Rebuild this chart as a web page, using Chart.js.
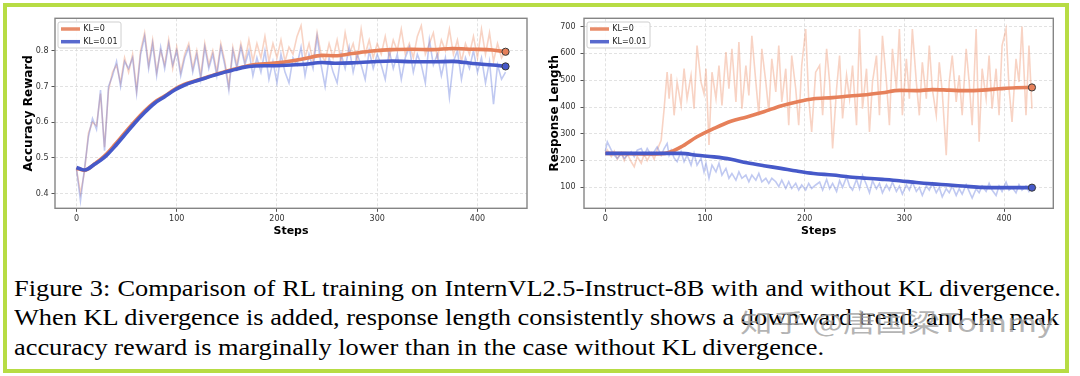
<!DOCTYPE html>
<html>
<head>
<meta charset="utf-8">
<script src="https://cdn.jsdelivr.net/npm/chart.js@4.4.1/dist/chart.umd.min.js"></script>
<style>
html,body{margin:0;padding:0;background:#fff;}
#root{position:relative;width:1080px;height:376px;overflow:hidden;background:#fff;}
#frame{position:absolute;left:3px;top:3px;width:1058px;height:362px;border:4px solid #b7dc44;}
canvas{position:absolute;top:0;}
.cap{position:absolute;left:13.8px;white-space:nowrap;font-family:"Liberation Serif","Times New Roman",serif;font-size:22.5px;line-height:1;color:#000;transform-origin:0 0;}
#wm{position:absolute;left:740px;top:309px;white-space:nowrap;font-family:"Noto Sans CJK SC",sans-serif;font-size:25px;line-height:1;color:rgba(160,160,160,0.78);transform-origin:0 0;}
</style>
</head>
<body>
<div id="root">
  <div id="frame"></div>
  <canvas id="accChart" width="540" height="250" style="left:0px"></canvas>
  <canvas id="lenChart" width="540" height="250" style="left:540px"></canvas>
  <div id="cap1" class="cap"></div>
  <div id="cap2" class="cap"></div>
  <div id="cap3" class="cap"></div>
  <div id="wm"></div>
</div>
<script>
// ---------------- DATA ----------------
const seriesNames = ['KL=0', 'KL=0.01'];
const xTitle = 'Steps';
const accTitle = 'Accuracy Reward';
const lenTitle = 'Response Length';

// tick labels
const stepTickValues = [0, 100, 200, 300, 400];
const accTickValues = [0.4, 0.5, 0.6, 0.7, 0.8];
const lenTickValues = [100, 200, 300, 400, 500, 600, 700];

// Accuracy reward: raw (light) curves
const accRawSteps = [0,4,8,12,16,20,24,28,32,36,40,44,48,52,56,60,64,68,72,76,80,84,88,92,96,100,104,108,112,116,120,124,128,132,136,140,144,148,152,156,160,164,168,172,176,180,184,188,192,196,200,204,208,212,216,220,224,228,232,236,240,244,248,252,256,260,264,268,272,276,280,284,288,292,296,300,304,308,312,316,320,324,328,332,336,340,344,348,352,356,360,364,368,372,376,380,384,388,392,396,400,404,408,412,416,420,424,428];
const accRawKL0 = [0.47,0.40,0.46,0.57,0.60,0.59,0.68,0.53,0.69,0.74,0.76,0.71,0.78,0.74,0.79,0.69,0.80,0.85,0.76,0.83,0.74,0.80,0.76,0.83,0.75,0.81,0.74,0.79,0.82,0.75,0.80,0.73,0.82,0.76,0.80,0.74,0.82,0.77,0.70,0.81,0.76,0.82,0.77,0.83,0.77,0.82,0.78,0.84,0.77,0.82,0.78,0.83,0.77,0.81,0.79,0.84,0.87,0.78,0.82,0.77,0.85,0.79,0.77,0.82,0.78,0.83,0.77,0.85,0.79,0.82,0.77,0.86,0.79,0.83,0.78,0.82,0.79,0.84,0.78,0.83,0.80,0.86,0.79,0.82,0.78,0.84,0.87,0.79,0.82,0.85,0.78,0.83,0.80,0.86,0.79,0.83,0.77,0.82,0.79,0.84,0.78,0.86,0.79,0.85,0.77,0.82,0.78,0.80];
const accRawKL001 = [0.47,0.38,0.47,0.56,0.61,0.58,0.69,0.52,0.70,0.73,0.77,0.70,0.77,0.75,0.78,0.68,0.79,0.84,0.75,0.82,0.73,0.81,0.75,0.82,0.76,0.80,0.73,0.78,0.81,0.74,0.79,0.72,0.81,0.75,0.79,0.73,0.81,0.76,0.69,0.80,0.75,0.81,0.76,0.80,0.73,0.78,0.74,0.80,0.72,0.77,0.71,0.79,0.74,0.71,0.78,0.76,0.81,0.73,0.79,0.75,0.84,0.76,0.70,0.78,0.74,0.71,0.79,0.75,0.81,0.74,0.79,0.76,0.72,0.80,0.75,0.79,0.76,0.72,0.80,0.75,0.79,0.72,0.78,0.81,0.74,0.79,0.76,0.71,0.83,0.76,0.79,0.73,0.78,0.67,0.77,0.80,0.72,0.78,0.75,0.80,0.74,0.78,0.71,0.77,0.65,0.76,0.72,0.74];

// Accuracy reward: smoothed curves
const accSmoothSteps = [0,4,8,12,18,24,30,38,48,58,68,78,88,98,108,118,128,138,148,158,168,178,188,200,214,228,245,258,275,295,315,335,355,375,395,415,428];
const accSmoothKL0 = [0.471,0.468,0.465,0.470,0.483,0.496,0.511,0.536,0.569,0.601,0.631,0.656,0.673,0.692,0.706,0.715,0.724,0.733,0.741,0.749,0.756,0.761,0.763,0.766,0.771,0.778,0.787,0.786,0.792,0.799,0.803,0.804,0.803,0.806,0.804,0.802,0.797];
const accSmoothKL001 = [0.473,0.469,0.466,0.470,0.482,0.493,0.507,0.531,0.564,0.597,0.627,0.653,0.671,0.690,0.704,0.714,0.723,0.732,0.740,0.747,0.754,0.757,0.758,0.758,0.760,0.762,0.767,0.765,0.766,0.769,0.771,0.769,0.769,0.770,0.764,0.760,0.756];

// Response length: raw (light) curves
const lenRawSteps = [0,2,6,9,12,16,19,22,26,29,32,36,39,42,46,49,52,56,
  59,62,64,66,69,72,76,79,82,86,89,92,96,99,101,
  104,107,111,114,117,121,124,127,131,134,137,141,144,147,151,154,157,161,164,167,171,174,177,181,184,187,191,194,197,201,204,207,211,
  215,218,222,225,228,232,235,238,242,245,248,252,255,258,262,265,268,272,275,278,282,285,288,292,295,298,302,305,308,312,315,318,322,325,328,332,335,338,342,345,348,352,355,358,362,365,368,372,375,378,382,385,388,392,395,398,402,405,408,412,415,418,422,425,428];
const lenRawKL0 = [225,240,215,235,205,230,200,225,195,177,215,190,225,200,230,205,240,276,
  394,530,431,524,369,493,406,543,431,518,394,629,493,450,543,
  258,530,431,555,406,605,468,617,419,642,394,555,443,666,493,369,617,493,382,580,456,629,419,543,332,592,468,332,555,691,431,307,530,
  555,369,617,493,245,468,592,357,518,431,555,332,691,394,543,307,493,592,369,666,493,332,617,468,691,369,580,431,691,493,369,567,431,629,468,369,567,456,220,493,592,419,518,369,617,493,332,691,270,543,431,592,394,543,369,629,691,468,344,580,493,700,369,629,394];
const lenRawKL001 = [235,270,239,220,208,227,208,220,233,214,239,245,220,245,220,233,251,220,
  245,264,220,239,210,196,233,196,220,183,227,183,208,158,190,
  134,183,158,190,146,171,134,152,127,158,134,146,121,146,127,152,121,134,115,134,121,103,127,96,121,96,115,90,109,90,115,96,109,
  120,90,130,95,115,85,125,100,140,105,90,130,95,145,110,80,125,95,115,80,110,90,120,85,105,75,110,90,120,85,100,70,105,90,115,80,100,65,95,80,105,70,95,75,110,85,60,95,80,105,85,115,90,70,105,85,120,90,100,80,110,90,105,85,100];

// Response length: smoothed curves
const lenSmoothSteps = [0,20,40,60,76,92,109,126,142,159,176,192,209,228,245,262,278,295,312,328,345,362,378,395,412,428];
const lenSmoothKL0 = [227,226,225,227,251,289,320,347,363,382,404,419,431,435,441,446,453,462,461,465,463,461,463,468,472,473];
const lenSmoothKL001 = [227,227,227,227,227,220,214,205,192,181,171,161,152,146,139,134,130,125,118,113,109,104,100,99,99,99];

const accRange = {min: 0.359, max: 0.8906};
const lenRange = {min: 22, max: 731};
const stepRange = {min: -21.4, max: 449.4};

const captionLines = [
  'Figure 3: Comparison of RL training on InternVL2.5-Instruct-8B with and without KL divergence.',
  'When KL divergence is added, response length consistently shows a downward trend, and the peak',
  'accuracy reward is marginally lower than in the case without KL divergence.'
];
const watermarkText = '知乎 @唐国梁Tommy';

// ---------------- STYLE ----------------
const ORANGE = '#e6805a';
const BLUE = '#4659c9';
const ORANGE_RAW = 'rgba(236,140,100,0.38)';
const BLUE_RAW = 'rgba(80,105,215,0.36)';
const FONT = '"DejaVu Sans", sans-serif';

const pts = (xs, ys) => xs.map((x, i) => ({x: x, y: ys[i]}));

const decorPlugin = {
  id: 'decor',
  afterDraw(chart) {
    const ctx = chart.ctx, a = chart.chartArea;
    ctx.save();
    ctx.strokeStyle = '#858585';
    ctx.lineWidth = 1.4;
    ctx.strokeRect(a.left, a.top, a.right - a.left, a.bottom - a.top);
    const items = chart.data.datasets.filter(d => d.legendText).sort((p, q) => p.legendRank - q.legendRank);
    ctx.font = '8px ' + FONT;
    const tw = Math.max.apply(null, items.map(d => ctx.measureText(d.legendText).width));
    const x0 = a.left + 3, y0 = a.top + 3.7;
    const w = 25.3 + tw + 3.5, h = 26, r = 2;
    ctx.beginPath();
    ctx.moveTo(x0 + r, y0);
    ctx.lineTo(x0 + w - r, y0); ctx.quadraticCurveTo(x0 + w, y0, x0 + w, y0 + r);
    ctx.lineTo(x0 + w, y0 + h - r); ctx.quadraticCurveTo(x0 + w, y0 + h, x0 + w - r, y0 + h);
    ctx.lineTo(x0 + r, y0 + h); ctx.quadraticCurveTo(x0, y0 + h, x0, y0 + h - r);
    ctx.lineTo(x0, y0 + r); ctx.quadraticCurveTo(x0, y0, x0 + r, y0);
    ctx.closePath();
    ctx.fillStyle = 'rgba(255,255,255,0.85)';
    ctx.fill();
    ctx.strokeStyle = '#cfcfcf';
    ctx.lineWidth = 1;
    ctx.stroke();
    items.forEach((d, i) => {
      const cy = y0 + 7 + i * 12.7;
      ctx.globalAlpha = 0.9;
      ctx.strokeStyle = d.borderColor;
      ctx.lineWidth = 3.5;
      ctx.lineCap = 'butt';
      ctx.beginPath(); ctx.moveTo(x0 + 3, cy); ctx.lineTo(x0 + 22, cy); ctx.stroke();
      ctx.globalAlpha = 1;
      ctx.fillStyle = '#222';
      ctx.textBaseline = 'middle';
      ctx.textAlign = 'left';
      ctx.fillText(d.legendText, x0 + 25.3, cy);
    });
    ctx.restore();
  }
};

function endMarker(c) {
  return c.dataIndex === c.dataset.data.length - 1 ? 3.6 : 0;
}

function makeChart(id, cfg) {
  const smoothDs = (label, rank, steps, vals, color) => ({
    label: label, legendText: label, legendRank: rank,
    data: pts(steps, vals),
    borderColor: color, borderWidth: 3.6,
    cubicInterpolationMode: 'monotone',
    pointRadius: endMarker, pointHoverRadius: 0,
    pointBackgroundColor: color, pointBorderColor: '#3a3a3a', pointBorderWidth: 1,
    fill: false
  });
  const rawDs = (label, steps, vals, color) => ({
    label: label, data: pts(steps, vals),
    borderColor: color, borderWidth: 1.6, tension: 0,
    pointRadius: 0, pointHoverRadius: 0, fill: false
  });
  return new Chart(document.getElementById(id), {
    type: 'line',
    data: {
      datasets: [
        smoothDs(seriesNames[1], 1, cfg.sSteps, cfg.s001, BLUE),
        smoothDs(seriesNames[0], 0, cfg.sSteps, cfg.s0, ORANGE),
        rawDs(seriesNames[1] + ' raw', cfg.rSteps, cfg.r001, BLUE_RAW),
        rawDs(seriesNames[0] + ' raw', cfg.rSteps, cfg.r0, ORANGE_RAW)
      ]
    },
    options: {
      responsive: false, animation: false, devicePixelRatio: 1,
      events: [],
      layout: {padding: {left: 0, top: 18.3, right: cfg.padRight, bottom: 0}},
      plugins: {legend: {display: false}, tooltip: {enabled: false}},
      scales: {
        x: {
          type: 'linear', min: stepRange.min, max: stepRange.max,
          afterFit(s) { s.height = 41.7; },
          afterBuildTicks(s) { s.ticks = stepTickValues.map(v => ({value: v})); },
          ticks: {font: {family: FONT, size: 8}, color: '#333', padding: 2.5, maxRotation: 0,
                  callback: v => String(Math.round(v))},
          grid: {color: '#dadada', lineWidth: 0.8, drawTicks: true, tickLength: 3.5, tickColor: '#555', tickWidth: 1},
          border: {display: false, dash: [3, 2]},
          title: {display: true, text: xTitle, color: '#000', font: {family: FONT, size: 11, weight: 'bold'}, padding: {top: 0, bottom: 12.4}}
        },
        y: {
          type: 'linear', min: cfg.range.min, max: cfg.range.max,
          afterFit(s) { s.width = cfg.yWidth; },
          afterBuildTicks(s) { s.ticks = cfg.tickValues.map(v => ({value: v})); },
          ticks: {font: {family: FONT, size: 8}, color: '#333', padding: cfg.yPad, callback: cfg.fmt},
          grid: {color: '#dadada', lineWidth: 0.8, drawTicks: true, tickLength: 3.5, tickColor: '#555', tickWidth: 1},
          border: {display: false, dash: [3, 2]},
          title: {display: true, text: cfg.title, color: '#000', font: {family: FONT, size: 12, weight: 'bold'}, padding: {top: cfg.titlePad, bottom: 0}}
        }
      }
    },
    plugins: [decorPlugin]
  });
}

makeChart('accChart', {
  sSteps: accSmoothSteps, s0: accSmoothKL0, s001: accSmoothKL001,
  rSteps: accRawSteps, r0: accRawKL0, r001: accRawKL001,
  range: accRange, tickValues: accTickValues,
  yWidth: 55, yPad: 3, titlePad: 21.8, padRight: 13, title: accTitle,
  fmt: v => Number(v).toFixed(1)
});
makeChart('lenChart', {
  sSteps: lenSmoothSteps, s0: lenSmoothKL0, s001: lenSmoothKL001,
  rSteps: lenRawSteps, r0: lenRawKL0, r001: lenRawKL001,
  range: lenRange, tickValues: lenTickValues,
  yWidth: 44, yPad: 5, titlePad: 7.3, padRight: 26.7, title: lenTitle,
  fmt: v => String(Math.round(v))
});

// ---------------- CAPTION ----------------
(function () {
  const tops = [277.9, 307.2, 337.2];
  const targets = [1046.8, 1045.2, 810];
  const els = [1, 2, 3].map(i => document.getElementById('cap' + i));
  els.forEach((el, i) => { el.textContent = captionLines[i]; el.style.top = tops[i] + 'px'; });
  const w3 = els[2].getBoundingClientRect().width;
  const s = targets[2] / w3;
  els.forEach((el, i) => {
    if (i < 2) {
      const w = el.getBoundingClientRect().width;
      const spaces = (captionLines[i].match(/ /g) || []).length;
      el.style.wordSpacing = ((targets[i] / s - w) / spaces) + 'px';
    }
    el.style.transform = 'scaleX(' + s + ')';
  });
  const wm = document.getElementById('wm');
  wm.textContent = watermarkText;
  const ww = wm.getBoundingClientRect().width;
  wm.style.transform = 'scaleX(' + (314 / ww) + ')';
})();
</script>
</body>
</html>
